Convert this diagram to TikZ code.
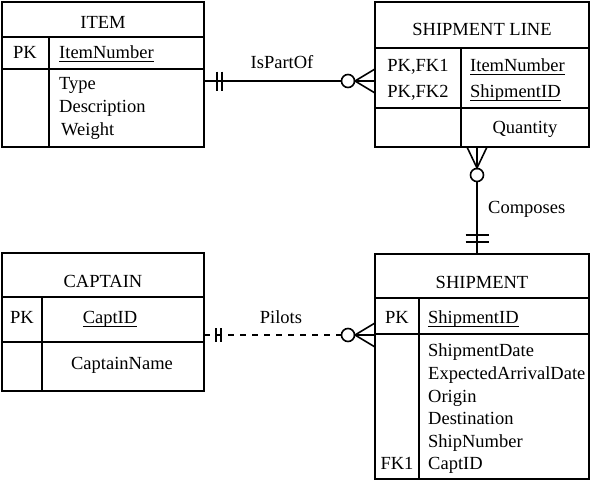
\documentclass[tikz,border=0pt]{standalone}
\usepackage{fontspec}
\setmainfont{Liberation Serif}
\usetikzlibrary{positioning, calc}

% underlined key attribute, rule at a fixed depth
\newcommand{\pkey}[1]{\underline{\smash{#1}\rule[-1.6pt]{0pt}{0pt}}}

\begin{document}
\begin{tikzpicture}[
    x=1pt, y=-1pt,
    % Styling
    base font/.style={font=\fontsize{18.5}{22}\selectfont},
    entity box/.style={
        draw,
        line width=1.6pt,
        inner sep=0pt,
        outer sep=0pt,
        anchor=north west
    },
    divider/.style={line width=1.6pt},
    title text/.style={base font, inner sep=0pt, anchor=base},
    key text/.style={base font, inner sep=0pt, anchor=base},
    attr text/.style={base font, inner sep=0pt, anchor=base west},
    rel text/.style={base font, inner sep=0pt, anchor=base},
    % Connectors
    link/.style={line width=1.6pt},
    link dashed/.style={link, dash pattern=on 6pt off 6pt},
    mark line/.style={line width=1.6pt}
]
\useasboundingbox (0,0) rectangle (590,480);

% --- ITEM ---
\node[entity box, minimum width=202pt, minimum height=145pt] (item) at (2,2) {};
\draw[divider] (2,37) -- (204,37);
\draw[divider] (2,69) -- (204,69);
\draw[divider] (49,37) -- (49,147);
\node[title text] (item-title) at (103,28) {ITEM};
\node[key text] (item-pk) at (25,58) {PK};
\node[attr text] (item-key) at (59,58) {\pkey{ItemNumber}};
\foreach \attr/\xpos/\ypos/\idx in {Type/59/89/1, Description/59/112/2, Weight/61/135/3} {
    \node[attr text] (item-attr-\idx) at (\xpos,\ypos) {\attr};
}

% --- SHIPMENT LINE ---
\node[entity box, minimum width=214pt, minimum height=145pt] (line) at (375,2) {};
\draw[divider] (375,48) -- (589,48);
\draw[divider] (375,108) -- (589,108);
\draw[divider] (461,48) -- (461,147);
\node[title text] (line-title) at (482,35) {SHIPMENT LINE};
\node[key text] (line-pk-1) at (418,71) {PK,FK1};
\node[key text] (line-pk-2) at (418,97) {PK,FK2};
\node[attr text] (line-key-1) at (470,71) {\pkey{ItemNumber}};
\node[attr text] (line-key-2) at (470,97) {\pkey{ShipmentID}};
\node[key text] (line-attr-1) at (525,133) {Quantity};

% --- SHIPMENT ---
\node[entity box, minimum width=214pt, minimum height=225pt] (ship) at (375,254) {};
\draw[divider] (375,298) -- (589,298);
\draw[divider] (375,334) -- (589,334);
\draw[divider] (419,298) -- (419,479);
\node[title text] (ship-title) at (482,288) {SHIPMENT};
\node[key text] (ship-pk) at (397,323) {PK};
\node[attr text] (ship-key) at (428,323) {\pkey{ShipmentID}};
\foreach \attr/\ypos/\idx in {ShipmentDate/356/1, ExpectedArrivalDate/379/2, Origin/402/3,
        Destination/424/4, ShipNumber/447/5, CaptID/469/6} {
    \node[attr text] (ship-attr-\idx) at (428,\ypos) {\attr};
}
\node[key text] (ship-fk) at (397,469) {FK1};

% --- CAPTAIN ---
\node[entity box, minimum width=202pt, minimum height=138pt] (capt) at (2,253) {};
\draw[divider] (2,297) -- (204,297);
\draw[divider] (2,342) -- (204,342);
\draw[divider] (42,297) -- (42,391);
\node[title text] (capt-title) at (103,287) {CAPTAIN};
\node[key text] (capt-pk) at (22,323) {PK};
\node[key text] (capt-key) at (110,323) {\pkey{CaptID}};
\node[key text] (capt-attr-1) at (122,369) {CaptainName};

% --- IsPartOf ---
\coordinate (ispartof-one) at (204,81);
\coordinate (ispartof-many) at (375,81);
\draw[link] (ispartof-one) -- ($(ispartof-many)+(-33.5,0)$);
\draw[mark line] (ispartof-one) ++(13,-9.5) -- ++(0,19);
\draw[mark line] (ispartof-one) ++(18,-9.5) -- ++(0,19);
\draw[mark line] (ispartof-many) ++(-27,0) circle (6.5);
\draw[mark line] (ispartof-many) ++(0,-12) -- ++(-20,12) -- ++(20,12);
\draw[mark line] (ispartof-many) ++(-20,0) -- (ispartof-many);
\node[rel text] (ispartof-label) at (282,68) {IsPartOf};

% --- Composes ---
\coordinate (composes-many) at (477,147);
\coordinate (composes-one) at (477,254);
\draw[link] ($(composes-many)+(0,34.5)$) -- (composes-one);
\draw[mark line] (composes-many) ++(0,28) circle (6.5);
\draw[mark line] (composes-many) ++(-10,0) -- ++(10,21) -- ++(10,-21);
\draw[mark line] (composes-many) -- ++(0,21);
\draw[mark line] (composes-one) ++(-11.5,-19) -- ++(23,0);
\draw[mark line] (composes-one) ++(-11.5,-12) -- ++(23,0);
\node[rel text, anchor=base west] (composes-label) at (488,213) {Composes};

% --- Pilots ---
\coordinate (pilots-one) at (204,335);
\coordinate (pilots-many) at (375,335);
\draw[link dashed] (pilots-one) -- ($(pilots-many)+(-33.5,0)$);
\draw[mark line] (pilots-one) ++(12,-7) -- ++(0,14);
\draw[mark line] (pilots-one) ++(17,-7) -- ++(0,14);
\draw[mark line] (pilots-many) ++(-27,0) circle (6.5);
\draw[mark line] (pilots-many) ++(0,-12) -- ++(-20,12) -- ++(20,12);
\draw[mark line] (pilots-many) ++(-20,0) -- (pilots-many);
\node[rel text] (pilots-label) at (281,323) {Pilots};

\end{tikzpicture}
\end{document}
